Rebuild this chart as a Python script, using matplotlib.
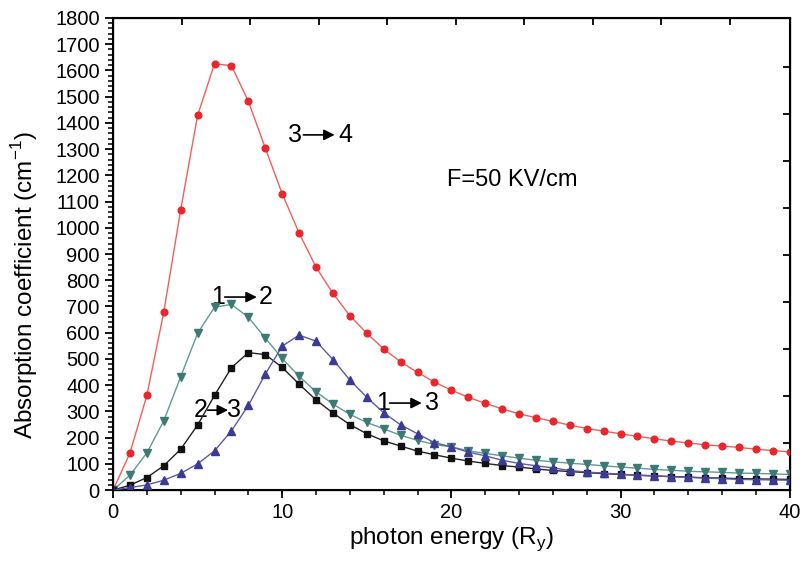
import numpy as np
import matplotlib
matplotlib.use('Agg')
import matplotlib.pyplot as plt

plt.rcParams['font.family'] = ['Liberation Sans', 'DejaVu Sans']

energy = np.arange(0, 41)

# 3 -> 4 (red circles)
abs_34 = [0, 141, 361, 678, 1068, 1428, 1625, 1618, 1482, 1304,
          1130, 980, 850, 750, 665, 598, 538, 489, 449, 412,
          381, 354, 331, 310, 291, 276, 262, 248, 235, 225,
          215, 205, 196, 187, 180, 173, 168, 163, 156, 151, 146]
# 1 -> 2 (teal down triangles)
abs_12 = [0, 57, 142, 264, 432, 598, 697, 708, 659, 580,
          502, 434, 375, 328, 289, 258, 234, 209, 190, 174,
          165, 150, 140, 131, 122, 114, 108, 103, 98, 93,
          88, 84, 79, 76, 72, 70, 68, 65, 64, 62, 60]
# 2 -> 3 (black squares)
abs_23 = [0, 19, 48, 93, 156, 248, 361, 467, 524, 517,
          468, 404, 344, 294, 250, 215, 188, 168, 149, 135,
          122, 111, 102, 94, 88, 81, 75, 71, 67, 63,
          60, 57, 54, 52, 50, 47, 46, 44, 43, 42, 41]
# 1 -> 3 (blue up triangles)
abs_13 = [0, 10, 20, 38, 64, 100, 150, 226, 323, 442,
          549, 591, 568, 498, 420, 354, 295, 249, 215, 181,
          165, 145, 131, 114, 102, 93, 85, 75, 69, 65,
          61, 57, 55, 51, 49, 46, 44, 41, 40, 39, 38]

fig = plt.figure(figsize=(8.1, 5.76), dpi=100)
ax = fig.add_axes([0.1395, 0.149, 0.8355, 0.82])

ax.plot(energy, abs_34, '-', color='#f0605a', lw=1.0, marker='o', ms=4.8,
        mfc='#e8262b', mec='#e8262b', zorder=3)
ax.plot(energy, abs_12, '-', color='#5f9a95', lw=1.0, marker='v', ms=6,
        mfc='#3d7a74', mec='#3d7a74', zorder=3)
ax.plot(energy, abs_23, '-', color='#222222', lw=1.0, marker='s', ms=4.3,
        mfc='#111111', mec='#111111', zorder=3)
ax.plot(energy, abs_13, '-', color='#5a5aa8', lw=1.0, marker='^', ms=6,
        mfc='#3b3b94', mec='#3b3b94', zorder=3)

ax.set_xlim(0, 40)
ax.set_ylim(0, 1800)
ax.set_xticks(np.arange(0, 41, 10))
ax.set_xticks(np.arange(0, 41, 2), minor=True)
ax.set_yticks(np.arange(0, 1801, 100))
ax.set_yticks(np.arange(0, 1801, 20), minor=True)
ax.tick_params(which='major', direction='out', length=6, width=1.3,
               labelsize=14.5, top=False, right=False)
ax.tick_params(which='minor', direction='out', length=3.5, width=1.1,
               top=False, right=False)
for s in ax.spines.values():
    s.set_linewidth(1.5)

ax.set_xlabel('photon energy (R$_\\mathregular{y}$)', fontsize=17.5)
ax.set_ylabel('Absorption coefficient (cm$^\\mathregular{-1}$)', fontsize=17.5)
ax.xaxis.set_label_coords(0.5, -0.075)
ax.yaxis.set_label_coords(-0.108, 0.434)

# top / right inward ticks
axt = ax.twiny()
axt.set_xlim(0, 39.5)
axt.set_xticks(np.arange(4, 39, 4))
axt.tick_params(direction='in', length=5, width=1.3, labeltop=False)
axr = ax.twinx()
axr.set_ylim(0, 1810)
axr.set_yticks(np.arange(180, 1800, 180))
axr.tick_params(direction='in', length=5, width=1.3, labelright=False)


def transition(x1, xa, xb, x2, y, a, b):
    ax.text(x1, y, a, fontsize=18, ha='center', va='center', zorder=2)
    ax.text(x2, y, b, fontsize=18, ha='center', va='center', zorder=2)
    ax.annotate('', xy=(xb, y), xytext=(xa, y), zorder=2,
                arrowprops=dict(arrowstyle='-|>', color='black', lw=1.2,
                                mutation_scale=16, shrinkA=0, shrinkB=0))


transition(10.75, 11.25, 13.1, 13.75, 1354, '3', '4')
transition(6.2, 6.6, 8.5, 9.05, 736, '1', '2')
transition(5.2, 5.6, 6.8, 7.15, 305, '2', '3')
transition(15.95, 16.35, 18.25, 18.85, 332, '1', '3')
ax.text(19.75, 1182, 'F=50 KV/cm', fontsize=17, ha='left', va='center')

fig.savefig('out.png', dpi=100)
